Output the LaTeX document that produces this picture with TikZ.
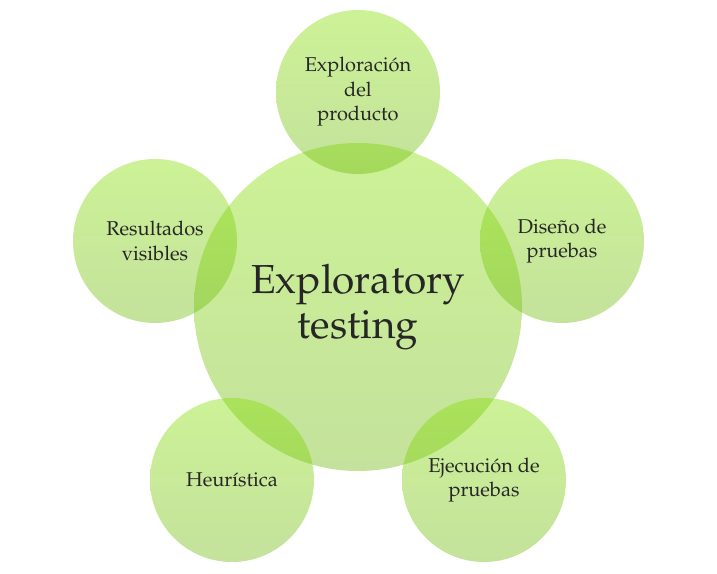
\documentclass[tikz,border=0pt]{standalone}
\usepackage[T1]{fontenc}
\usepackage{mathpazo}
\definecolor{gtop}{RGB}{131,223,0}
\definecolor{gbot}{RGB}{111,184,14}
\definecolor{txt}{RGB}{38,38,38}
\tikzset{
  bubble/.style={circle, inner sep=0pt, top color=gtop, bottom color=gbot,
    fill opacity=0.41, text opacity=1, text=txt, align=center, draw=none},
  small/.style={bubble, minimum size=164pt, font=\fontsize{20}{24.5}\selectfont},
  big/.style={bubble, minimum size=328pt, font=\fontsize{40.5}{45}\selectfont}
}
\begin{document}
\begin{tikzpicture}[x=1pt,y=-1pt]
\useasboundingbox (0,0) rectangle (717,573);
\node[big] (center) at (358,307) {Exploratory\\testing};
\node[small] (top) at (358,92) {Exploraci\'on\\del\\producto};
\node[small] (right) at (562,241) {Dise\~no de\\pruebas};
\node[small] (left) at (155,241) {Resultados\\visibles};
\node[small] (bl) at (232,480) {Heur\'{\i}stica};
\node[small] (br) at (484,480) {Ejecuci\'on de\\pruebas};
\end{tikzpicture}
\end{document}
